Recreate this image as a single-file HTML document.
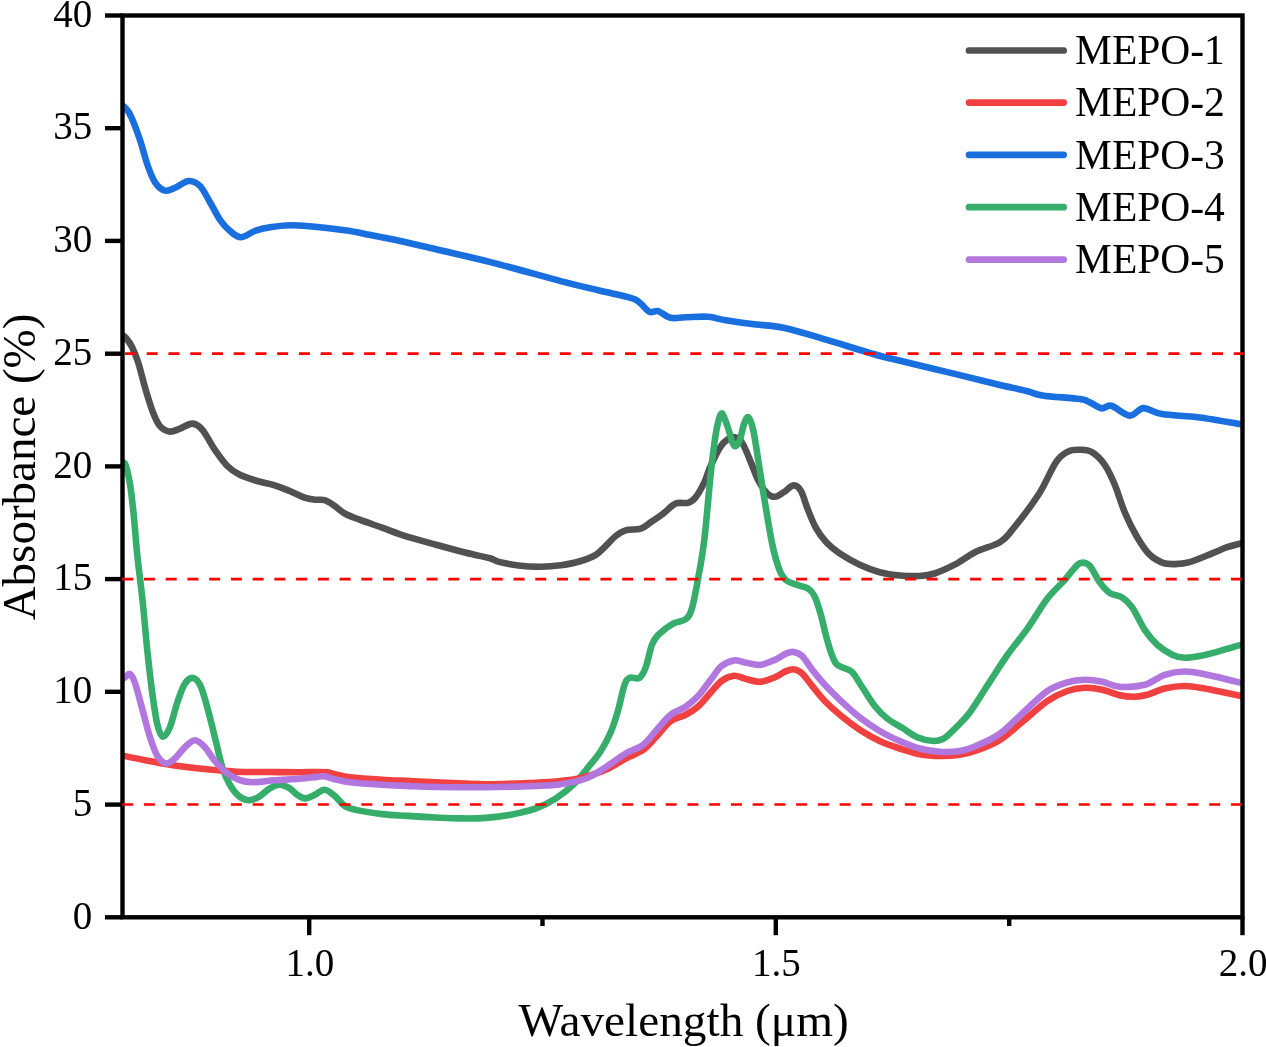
<!DOCTYPE html>
<html lang="en"><head><meta charset="utf-8"><title>Absorbance vs Wavelength</title>
<style>html,body{margin:0;padding:0;background:#fff;}body{width:1266px;height:1047px;overflow:hidden;}svg{display:block;}text{font-family:"Liberation Serif","Times New Roman",serif;fill:#000;}</style></head><body>
<svg width="1266" height="1047" viewBox="0 0 1266 1047">
<rect width="1266" height="1047" fill="#fff"/>
<defs><clipPath id="pc"><rect x="122.5" y="15.5" width="1120.0" height="901.8"/></clipPath></defs>
<g clip-path="url(#pc)" fill="none" stroke-width="6.6" stroke-linejoin="round" stroke-linecap="round">
<path stroke="#515151" d="M122.5 335.5 C123.1 335.9 124.4 336.1 126.0 338.0 C127.6 339.9 130.0 342.9 132.0 347.0 C134.0 351.1 135.9 355.2 138.2 362.4 C140.5 369.5 143.2 381.6 145.7 389.9 C148.2 398.2 150.6 406.4 153.0 412.4 C155.4 418.4 157.2 422.9 160.0 426.1 C162.8 429.3 166.7 431.2 170.0 431.6 C173.3 432.0 176.3 429.9 180.0 428.6 C183.7 427.3 188.7 423.4 192.4 423.6 C196.1 423.8 198.7 425.4 202.4 429.8 C206.2 434.2 210.8 443.8 214.9 449.8 C219.1 455.8 223.2 461.8 227.3 466.0 C231.5 470.2 234.8 472.3 239.8 474.8 C244.8 477.3 251.5 479.2 257.3 481.0 C263.1 482.8 269.4 483.6 274.8 485.3 C280.2 487.0 284.7 488.9 289.7 491.0 C294.7 493.1 300.5 496.2 304.7 497.7 C308.9 499.1 311.4 499.3 314.7 499.7 C318.0 500.1 321.4 499.1 324.7 500.2 C328.0 501.2 331.4 503.8 334.7 506.0 C338.0 508.2 340.5 511.2 344.7 513.5 C348.9 515.8 353.4 517.3 359.6 519.7 C365.8 522.1 374.2 524.9 382.1 527.7 C390.0 530.5 398.1 533.9 407.1 536.7 C416.1 539.5 426.2 542.0 436.0 544.7 C445.8 547.4 457.0 550.5 466.0 552.8 C475.0 555.1 484.7 556.8 490.0 558.3 C495.3 559.8 493.3 560.4 498.0 561.6 C502.7 562.8 511.3 564.6 518.4 565.5 C525.5 566.4 533.7 566.7 540.8 566.7 C547.9 566.7 554.1 566.2 560.8 565.3 C567.5 564.3 575.0 562.8 580.8 561.0 C586.6 559.2 591.6 557.3 595.8 554.8 C599.9 552.3 602.4 549.1 605.7 546.0 C609.0 542.9 612.4 538.6 615.7 536.0 C619.0 533.4 621.5 531.5 625.7 530.3 C629.9 529.1 636.5 529.9 640.7 528.6 C644.9 527.3 647.0 524.8 650.7 522.3 C654.5 519.8 659.1 516.7 663.2 513.6 C667.4 510.5 671.5 505.4 675.6 503.6 C679.8 501.8 684.8 503.8 688.1 502.8 C691.4 501.8 692.9 500.8 695.6 497.4 C698.3 494.0 701.9 487.4 704.3 482.4 C706.7 477.4 707.4 473.2 710.0 467.4 C712.6 461.6 717.1 452.1 720.0 447.4 C722.9 442.7 724.9 441.1 727.4 439.4 C729.9 437.7 732.4 436.6 734.9 437.2 C737.4 437.8 739.9 439.4 742.4 443.2 C744.9 447.0 747.2 453.6 749.9 459.9 C752.6 466.2 755.7 475.5 758.6 481.1 C761.5 486.7 764.7 491.0 767.4 493.6 C770.1 496.2 772.2 497.0 774.9 496.8 C777.6 496.6 780.5 494.2 783.6 492.3 C786.7 490.4 790.7 485.6 793.6 485.4 C796.5 485.2 798.9 487.5 801.1 491.1 C803.3 494.8 804.6 501.3 807.0 507.3 C809.4 513.3 812.4 521.5 815.6 527.3 C818.8 533.1 822.3 537.9 826.3 542.3 C830.3 546.7 834.2 549.8 839.8 553.5 C845.4 557.2 853.1 561.6 859.7 564.7 C866.4 567.8 873.0 570.4 879.7 572.2 C886.4 574.0 893.0 574.9 899.7 575.5 C906.4 576.1 913.9 576.3 919.7 576.0 C925.5 575.7 928.8 575.4 934.6 573.5 C940.4 571.6 947.9 568.2 954.6 564.7 C961.3 561.2 967.5 556.0 975.0 552.2 C982.5 548.5 993.7 546.0 999.9 542.2 C1006.1 538.5 1006.0 537.6 1012.4 529.7 C1018.8 521.8 1031.2 506.0 1038.4 494.8 C1045.7 483.6 1051.0 469.5 1055.9 462.3 C1060.8 455.1 1064.0 453.7 1068.0 451.6 C1072.0 449.5 1075.8 449.7 1079.8 449.8 C1083.8 449.9 1088.1 449.8 1092.3 452.3 C1096.5 454.8 1101.0 459.4 1104.8 464.8 C1108.5 470.2 1111.5 476.9 1114.8 484.8 C1118.1 492.7 1121.0 503.5 1124.7 512.2 C1128.4 520.9 1133.0 530.1 1137.2 537.2 C1141.4 544.3 1145.5 550.5 1149.7 554.7 C1153.9 558.9 1158.0 561.0 1162.2 562.6 C1166.4 564.2 1170.1 564.2 1174.7 564.1 C1179.3 564.0 1183.4 563.9 1189.6 562.1 C1195.8 560.3 1205.8 555.9 1212.1 553.4 C1218.3 550.9 1222.0 548.9 1227.1 547.2 C1232.2 545.5 1239.9 543.7 1242.5 543.0"/>
<path stroke="#1A6FDF" d="M122.5 105.8 C123.0 106.2 124.0 106.2 125.5 108.0 C127.0 109.8 128.8 111.5 131.2 116.8 C133.6 122.1 137.3 132.0 140.0 140.0 C142.7 148.0 145.0 157.9 147.5 165.0 C150.0 172.1 152.1 178.0 155.0 182.3 C157.9 186.6 161.7 189.7 165.0 190.6 C168.3 191.5 171.1 189.4 175.0 187.8 C178.9 186.2 184.4 181.3 188.6 181.0 C192.8 180.7 196.4 182.4 200.0 186.0 C203.6 189.6 206.7 196.7 210.0 202.3 C213.3 207.9 216.7 215.0 220.0 219.8 C223.3 224.6 226.5 228.1 230.0 231.0 C233.5 233.9 236.9 237.3 241.0 237.3 C245.1 237.3 250.0 232.7 254.8 231.0 C259.6 229.3 264.2 228.2 270.0 227.3 C275.8 226.4 283.1 225.5 289.7 225.3 C296.3 225.1 300.5 225.5 309.7 226.3 C318.9 227.1 334.7 228.9 344.7 230.3 C354.7 231.7 361.3 233.2 369.6 234.8 C377.9 236.4 383.5 237.4 394.6 239.8 C405.7 242.2 419.5 245.5 436.0 249.3 C452.5 253.2 472.6 257.6 493.4 262.9 C514.2 268.2 543.3 276.5 560.8 281.1 C578.3 285.7 586.6 287.5 598.3 290.3 C609.9 293.1 623.9 295.8 630.7 297.8 C637.6 299.8 636.3 300.0 639.4 302.3 C642.5 304.6 646.3 310.3 649.4 311.8 C652.5 313.3 654.7 310.1 658.2 311.1 C661.7 312.1 666.0 316.8 670.6 317.8 C675.2 318.8 679.4 317.5 685.6 317.3 C691.9 317.1 701.4 316.3 708.1 316.8 C714.8 317.3 718.3 319.1 725.6 320.3 C732.9 321.5 742.2 322.8 752.0 324.1 C761.8 325.4 772.0 325.3 784.5 327.9 C797.0 330.5 812.4 335.6 826.9 339.9 C841.4 344.2 861.0 350.5 871.8 353.6 C882.6 356.8 878.5 355.6 891.8 358.8 C905.1 362.1 934.5 369.0 951.7 373.1 C968.9 377.2 982.4 380.7 994.9 383.7 C1007.4 386.7 1018.7 389.1 1026.6 391.0 C1034.5 392.9 1033.5 394.0 1042.4 395.4 C1051.3 396.8 1071.9 397.9 1079.8 399.1 C1087.7 400.3 1086.2 400.9 1089.8 402.4 C1093.4 403.9 1097.9 407.7 1101.5 408.3 C1105.1 408.9 1106.6 404.6 1111.3 405.8 C1116.0 407.0 1124.3 415.2 1129.7 415.6 C1135.1 416.0 1138.1 408.4 1143.5 408.1 C1148.9 407.9 1152.9 412.6 1162.2 414.1 C1171.5 415.7 1186.2 415.6 1199.6 417.4 C1213.0 419.1 1235.3 423.4 1242.5 424.6"/>
<path stroke="#37AD6B" d="M122.5 462.5 C123.0 462.9 124.2 461.2 125.5 464.8 C126.8 468.4 128.6 475.7 130.0 484.0 C131.4 492.3 132.4 502.5 133.7 514.7 C134.9 526.9 136.0 542.9 137.5 557.1 C139.0 571.3 140.8 584.1 142.5 600.0 C144.2 615.9 145.8 636.6 147.5 652.4 C149.2 668.2 150.8 682.7 152.5 694.8 C154.2 706.9 155.7 717.8 157.4 724.8 C159.1 731.8 160.8 736.3 162.9 736.7 C165.0 737.1 167.5 733.0 169.9 727.3 C172.3 721.6 174.9 709.6 177.4 702.3 C179.9 695.0 182.2 687.6 184.9 683.6 C187.6 679.6 190.8 677.4 193.5 678.0 C196.2 678.6 198.6 681.6 201.1 687.3 C203.6 693.0 206.1 703.1 208.6 712.3 C211.1 721.4 213.8 733.1 216.1 742.2 C218.4 751.4 220.0 760.1 222.3 767.2 C224.6 774.3 227.1 779.9 229.8 784.7 C232.5 789.5 235.5 793.3 238.6 795.9 C241.7 798.5 245.3 800.0 248.6 800.2 C251.9 800.4 255.0 799.2 258.5 797.2 C262.0 795.2 266.2 790.5 269.8 788.4 C273.4 786.3 276.5 784.7 279.8 784.7 C283.1 784.7 286.8 786.7 289.7 788.4 C292.6 790.1 294.6 793.0 297.2 794.7 C299.8 796.4 302.3 798.4 305.3 798.4 C308.3 798.4 311.8 796.2 315.0 794.7 C318.2 793.2 321.4 789.5 324.7 789.7 C328.0 789.9 331.4 793.2 334.7 795.9 C338.0 798.6 341.0 803.5 344.7 805.9 C348.4 808.3 350.9 808.7 357.1 810.1 C363.3 811.5 373.8 813.1 382.1 814.1 C390.4 815.1 398.1 815.3 407.1 815.9 C416.1 816.5 427.0 817.1 436.0 817.5 C445.0 817.9 452.7 818.3 461.0 818.4 C469.3 818.5 477.6 818.5 485.9 817.9 C494.2 817.3 502.6 816.3 510.9 814.7 C519.2 813.1 528.4 811.1 535.9 808.4 C543.4 805.7 549.6 802.5 555.8 798.5 C562.0 794.5 567.9 789.9 573.3 784.7 C578.7 779.5 583.7 772.8 588.3 767.2 C592.9 761.6 597.1 756.8 600.8 751.0 C604.5 745.2 607.8 739.2 610.7 732.3 C613.6 725.4 615.9 717.7 618.2 709.8 C620.5 701.9 622.6 690.2 624.5 684.9 C626.4 679.6 627.0 679.1 629.5 677.9 C632.0 676.7 636.7 679.6 639.4 677.9 C642.1 676.1 643.6 672.9 645.7 667.4 C647.8 661.9 649.8 650.3 651.9 644.9 C654.0 639.5 654.7 638.4 658.2 634.9 C661.7 631.4 668.5 626.2 673.1 623.6 C677.7 621.0 682.5 621.7 685.6 619.2 C688.7 616.7 689.8 615.3 691.9 608.5 C694.0 601.7 696.0 590.0 698.1 578.5 C700.2 567.0 702.2 557.1 704.3 539.8 C706.4 522.5 708.8 492.0 710.6 474.9 C712.4 457.8 713.9 446.1 715.3 437.0 C716.6 427.9 717.6 423.9 718.7 420.0 C719.9 416.1 720.7 412.5 722.2 413.7 C723.7 414.9 726.0 422.2 727.7 427.0 C729.4 431.8 731.1 439.2 732.4 442.4 C733.7 445.6 734.4 446.6 735.6 446.2 C736.9 445.8 738.5 443.6 739.9 439.9 C741.3 436.2 742.6 427.8 744.0 424.0 C745.4 420.2 746.9 416.2 748.4 417.2 C749.9 418.2 751.5 422.5 753.2 430.0 C754.9 437.5 756.7 450.3 758.6 462.4 C760.5 474.4 762.6 488.6 764.9 502.3 C767.2 516.0 770.0 533.5 772.4 544.8 C774.8 556.1 777.1 564.0 779.5 570.0 C781.9 576.0 783.3 578.0 786.5 580.5 C789.7 583.0 794.9 584.0 798.5 585.3 C802.1 586.6 805.4 586.8 808.0 588.5 C810.6 590.2 812.1 591.3 814.2 595.5 C816.3 599.7 818.6 606.9 820.5 613.5 C822.4 620.1 824.1 628.5 825.8 634.9 C827.5 641.3 829.1 647.2 830.8 652.0 C832.5 656.8 833.9 661.0 836.0 663.6 C838.1 666.2 840.8 666.5 843.5 667.9 C846.2 669.3 849.2 669.1 852.3 672.3 C855.4 675.5 858.6 681.7 862.3 687.3 C866.0 692.9 870.6 700.8 874.7 706.0 C878.9 711.2 882.6 714.9 887.2 718.5 C891.8 722.1 897.2 724.7 902.2 727.8 C907.2 730.9 912.0 735.0 917.2 737.2 C922.4 739.4 929.0 740.8 933.4 741.0 C937.8 741.2 940.6 740.0 943.4 738.7 C946.2 737.4 947.6 735.6 950.0 733.4 C952.4 731.2 954.7 729.0 958.0 725.5 C961.3 722.0 965.1 718.9 970.0 712.2 C974.9 705.5 981.2 695.0 987.4 685.5 C993.6 676.0 1000.7 664.5 1007.4 655.0 C1014.1 645.5 1020.7 638.0 1027.4 628.6 C1034.1 619.2 1041.2 606.7 1047.4 598.6 C1053.6 590.5 1059.8 585.5 1064.8 579.9 C1069.8 574.3 1074.0 567.8 1077.3 564.9 C1080.6 562.0 1082.2 562.4 1084.5 562.8 C1086.8 563.2 1088.5 564.1 1091.0 567.4 C1093.5 570.7 1096.7 578.1 1099.8 582.4 C1102.9 586.6 1106.1 590.4 1109.8 592.9 C1113.5 595.4 1118.5 595.0 1122.2 597.4 C1125.9 599.8 1128.5 602.0 1132.2 607.4 C1136.0 612.8 1140.5 623.7 1144.7 629.9 C1148.9 636.1 1152.6 640.6 1157.2 644.8 C1161.8 648.9 1167.6 652.6 1172.2 654.8 C1176.8 657.0 1180.0 657.6 1184.6 657.8 C1189.2 658.0 1193.8 657.2 1199.6 656.1 C1205.4 655.0 1212.4 653.1 1219.6 651.1 C1226.8 649.1 1238.7 645.4 1242.5 644.3"/>
<path stroke="#F14040" d="M122.5 755.5 C126.2 756.3 137.1 758.7 145.0 760.2 C152.9 761.7 161.6 763.4 169.9 764.7 C178.2 766.0 186.6 767.0 194.9 768.0 C203.2 769.0 212.8 769.8 219.9 770.4 C227.0 771.0 229.0 771.4 237.3 771.7 C245.6 772.0 259.4 771.9 269.8 772.0 C280.2 772.1 292.2 772.2 299.7 772.2 C307.2 772.2 310.1 772.0 314.7 772.0 C319.3 772.0 323.4 771.8 327.2 772.3 C330.9 772.8 333.4 774.0 337.2 774.8 C340.9 775.6 342.2 776.4 349.7 777.2 C357.2 778.0 372.5 779.1 382.1 779.7 C391.7 780.3 398.1 780.5 407.1 780.9 C416.1 781.3 422.9 781.7 436.0 782.2 C449.1 782.8 469.2 784.1 485.9 784.2 C502.5 784.3 523.4 783.2 535.9 782.7 C548.4 782.2 553.3 781.8 560.8 781.0 C568.3 780.2 573.3 779.9 580.8 778.0 C588.3 776.1 598.2 773.0 605.7 769.7 C613.2 766.5 619.5 761.8 625.7 758.5 C632.0 755.2 638.2 753.3 643.2 749.8 C648.2 746.3 651.1 742.1 655.7 737.3 C660.3 732.5 665.6 724.9 670.6 721.1 C675.6 717.4 681.0 717.2 685.6 714.8 C690.2 712.4 694.0 710.1 698.1 706.5 C702.2 702.9 706.4 697.2 710.3 693.0 C714.2 688.8 717.6 683.9 721.5 681.0 C725.4 678.1 730.0 676.2 733.9 675.8 C737.8 675.4 740.6 677.6 744.9 678.6 C749.2 679.6 754.9 682.0 759.9 681.8 C764.9 681.6 770.5 679.1 774.9 677.3 C779.3 675.5 782.9 672.4 786.1 671.1 C789.4 669.8 791.7 669.0 794.4 669.4 C797.1 669.8 799.3 670.8 802.3 673.6 C805.3 676.4 808.5 681.5 812.3 686.1 C816.0 690.7 820.2 696.2 824.8 701.0 C829.4 705.8 834.0 710.0 839.8 714.8 C845.6 719.6 853.1 725.4 859.7 729.8 C866.4 734.2 873.0 737.9 879.7 741.0 C886.4 744.1 893.0 746.3 899.7 748.5 C906.4 750.7 913.1 753.0 919.7 754.2 C926.4 755.5 933.0 755.9 939.6 756.0 C946.2 756.1 953.2 755.7 959.6 754.7 C966.0 753.7 971.3 752.3 978.0 749.8 C984.7 747.3 992.1 744.9 999.9 739.9 C1007.7 734.9 1017.0 726.2 1024.9 719.7 C1032.8 713.2 1040.3 705.8 1047.4 701.0 C1054.5 696.2 1061.1 693.2 1067.3 691.0 C1073.5 688.8 1079.0 688.0 1084.8 687.8 C1090.6 687.6 1096.5 688.5 1102.3 689.8 C1108.1 691.0 1114.3 694.1 1119.7 695.3 C1125.1 696.5 1130.1 696.9 1134.7 696.8 C1139.3 696.7 1142.2 696.2 1147.2 694.8 C1152.2 693.4 1158.5 690.0 1164.7 688.5 C1170.9 687.0 1177.9 686.0 1184.6 686.0 C1191.2 686.0 1194.9 686.8 1204.6 688.5 C1214.2 690.2 1236.2 695.0 1242.5 696.3"/>
<path stroke="#B177DE" d="M122.5 679.0 C123.0 678.7 124.2 677.8 125.5 677.0 C126.8 676.2 128.4 673.0 130.0 674.0 C131.6 675.0 132.9 677.0 135.0 683.0 C137.1 689.0 140.0 700.8 142.5 709.8 C145.0 718.8 147.5 729.6 150.0 737.3 C152.5 745.0 154.7 751.6 157.4 756.0 C160.1 760.4 163.3 763.1 166.2 763.5 C169.1 763.9 171.8 761.2 174.9 758.5 C178.0 755.8 181.6 750.2 184.9 747.2 C188.2 744.2 191.6 740.2 194.9 740.2 C198.2 740.2 201.6 743.7 204.9 747.2 C208.2 750.7 211.2 756.6 214.9 761.0 C218.6 765.4 223.2 770.2 227.3 773.4 C231.5 776.6 235.6 778.7 239.8 780.2 C244.0 781.7 246.5 782.2 252.3 782.2 C258.1 782.2 266.9 780.9 274.8 780.3 C282.7 779.7 292.6 779.4 299.7 778.8 C306.8 778.2 313.0 777.3 317.2 776.9 C321.4 776.5 321.8 775.8 324.7 776.2 C327.6 776.6 330.5 778.2 334.7 779.2 C338.9 780.2 341.8 781.3 349.7 782.2 C357.6 783.1 372.5 784.1 382.1 784.7 C391.7 785.3 398.1 785.5 407.1 785.9 C416.1 786.3 422.9 786.8 436.0 787.0 C449.1 787.2 469.2 787.4 485.9 787.2 C502.5 787.0 523.4 786.5 535.9 786.0 C548.4 785.5 552.5 785.5 560.8 784.2 C569.1 783.0 578.3 781.3 585.8 778.5 C593.3 775.7 599.1 771.4 605.7 767.2 C612.4 763.0 619.5 757.2 625.7 753.5 C632.0 749.8 638.2 748.5 643.2 744.8 C648.2 741.0 651.1 736.0 655.7 731.0 C660.3 726.0 665.6 718.8 670.6 714.8 C675.6 710.8 681.0 709.9 685.6 706.8 C690.2 703.7 693.9 700.6 698.1 696.1 C702.3 691.6 706.7 684.9 710.6 679.9 C714.5 674.9 717.6 669.4 721.5 666.1 C725.4 662.9 730.1 661.0 734.0 660.4 C737.9 659.8 740.6 661.6 744.9 662.4 C749.2 663.1 754.9 665.3 759.9 664.9 C764.9 664.5 770.5 661.8 774.9 659.9 C779.3 658.0 783.0 654.9 786.1 653.6 C789.2 652.3 790.9 651.5 793.6 651.9 C796.3 652.3 799.2 653.1 802.3 656.1 C805.4 659.1 808.5 665.1 812.3 669.9 C816.0 674.7 820.2 679.8 824.8 684.8 C829.4 689.8 834.0 694.4 839.8 699.8 C845.6 705.2 853.1 712.1 859.7 717.3 C866.4 722.5 873.0 727.0 879.7 731.0 C886.4 735.0 893.0 738.1 899.7 741.0 C906.4 743.9 913.1 746.7 919.7 748.5 C926.4 750.3 933.0 751.3 939.6 751.7 C946.2 752.1 953.4 752.0 959.6 751.0 C965.8 750.0 970.3 748.4 977.0 745.5 C983.7 742.6 991.9 739.5 999.9 733.8 C1007.9 728.0 1017.0 718.1 1024.9 711.0 C1032.8 703.9 1040.3 695.8 1047.4 691.0 C1054.5 686.2 1061.1 684.2 1067.3 682.3 C1073.5 680.4 1079.0 679.9 1084.8 679.8 C1090.6 679.7 1096.5 680.6 1102.3 681.8 C1108.1 683.0 1112.6 686.3 1119.7 686.8 C1126.8 687.3 1137.2 686.8 1144.7 684.8 C1152.2 682.8 1158.1 677.0 1164.7 674.8 C1171.3 672.6 1177.9 671.6 1184.6 671.5 C1191.2 671.4 1194.9 672.3 1204.6 674.3 C1214.2 676.2 1236.2 681.7 1242.5 683.2"/>
</g>
<g stroke="#000" stroke-width="4.4" fill="none" stroke-linecap="butt">
<rect x="122.5" y="15.5" width="1120.0" height="901.8"/>
<line x1="105" y1="917.3" x2="122.5" y2="917.3"/>
<line x1="105" y1="804.6" x2="122.5" y2="804.6"/>
<line x1="105" y1="691.8" x2="122.5" y2="691.8"/>
<line x1="105" y1="579.1" x2="122.5" y2="579.1"/>
<line x1="105" y1="466.4" x2="122.5" y2="466.4"/>
<line x1="105" y1="353.7" x2="122.5" y2="353.7"/>
<line x1="105" y1="240.9" x2="122.5" y2="240.9"/>
<line x1="105" y1="128.2" x2="122.5" y2="128.2"/>
<line x1="105" y1="15.5" x2="122.5" y2="15.5"/>
<line x1="309.2" y1="917.3" x2="309.2" y2="935.2"/>
<line x1="775.8" y1="917.3" x2="775.8" y2="935.2"/>
<line x1="1242.5" y1="917.3" x2="1242.5" y2="935.2"/>
<line x1="542.5" y1="917.3" x2="542.5" y2="926"/>
<line x1="1009.2" y1="917.3" x2="1009.2" y2="926"/>
</g>
<line stroke="#ff0000" stroke-width="2.6" stroke-dasharray="11 10.74" fill="none" x1="125.0" y1="353.6" x2="1243.5" y2="353.6"/>
<line stroke="#ff0000" stroke-width="2.6" stroke-dasharray="11 10.74" fill="none" x1="122.2" y1="579.1" x2="1243.5" y2="579.1"/>
<line stroke="#ff0000" stroke-width="2.6" stroke-dasharray="11 10.74" fill="none" x1="122.2" y1="804.5" x2="1243.5" y2="804.5"/>
<g font-size="39px">
<text x="92.3" y="928.5" text-anchor="end">0</text>
<text x="92.3" y="815.8" text-anchor="end">5</text>
<text x="92.3" y="703.0" text-anchor="end">10</text>
<text x="92.3" y="590.3" text-anchor="end">15</text>
<text x="92.3" y="477.6" text-anchor="end">20</text>
<text x="92.3" y="364.9" text-anchor="end">25</text>
<text x="92.3" y="252.1" text-anchor="end">30</text>
<text x="92.3" y="139.4" text-anchor="end">35</text>
<text x="92.3" y="26.7" text-anchor="end">40</text>
<text x="309.8" y="975.5" text-anchor="middle">1.0</text>
<text x="776.4" y="975.5" text-anchor="middle">1.5</text>
<text x="1243.1" y="975.5" text-anchor="middle">2.0</text>
</g>
<text x="683.7" y="1036.3" font-size="47.3px" text-anchor="middle">Wavelength (μm)</text>
<text transform="translate(35.3 467) rotate(-90)" font-size="47px" text-anchor="middle">Absorbance (%)</text>
<g stroke-width="6.7" stroke-linecap="round">
<line x1="969" y1="50.5" x2="1063.7" y2="50.5" stroke="#515151"/>
<line x1="969" y1="102.6" x2="1063.7" y2="102.6" stroke="#F14040"/>
<line x1="969" y1="154.8" x2="1063.7" y2="154.8" stroke="#1A6FDF"/>
<line x1="969" y1="207.2" x2="1063.7" y2="207.2" stroke="#37AD6B"/>
<line x1="969" y1="259.6" x2="1063.7" y2="259.6" stroke="#B177DE"/>
</g>
<g font-size="41.5px">
<text x="1075" y="64.3">MEPO-1</text>
<text x="1075" y="116.4">MEPO-2</text>
<text x="1075" y="168.6">MEPO-3</text>
<text x="1075" y="221.0">MEPO-4</text>
<text x="1075" y="273.4">MEPO-5</text>
</g>
</svg></body></html>
